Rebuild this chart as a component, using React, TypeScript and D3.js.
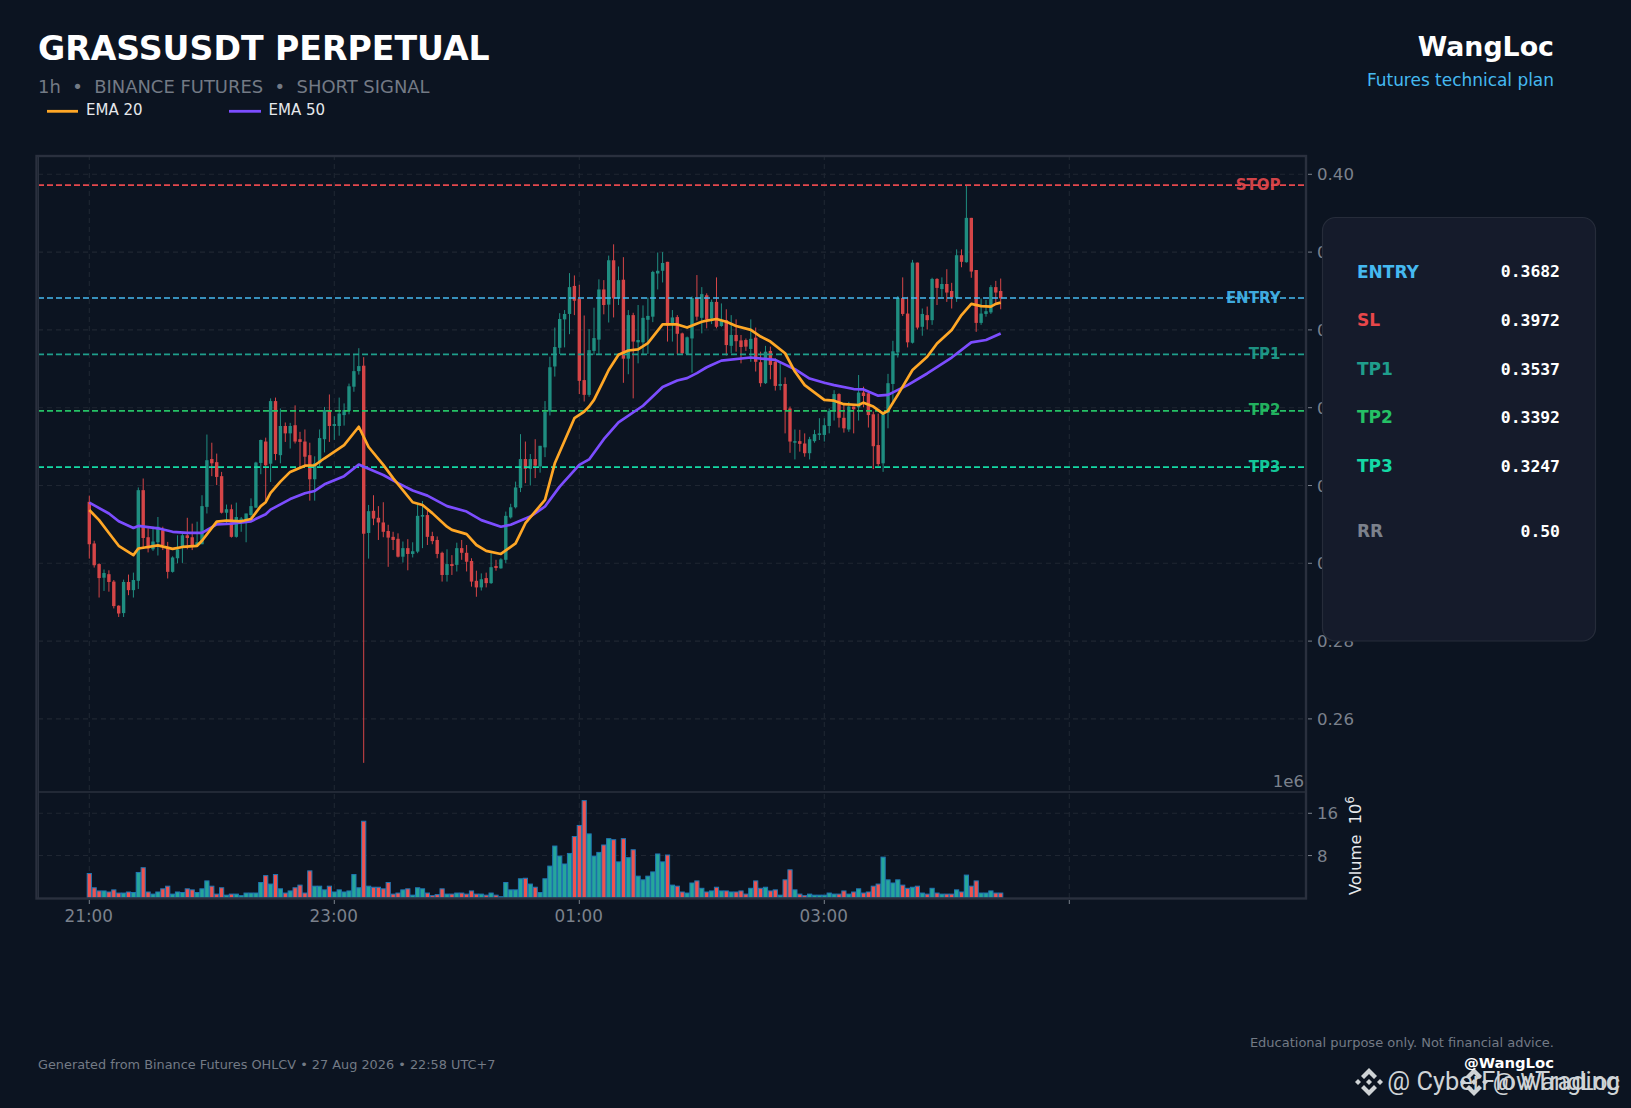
import React from "react";
import * as d3 from "d3";

const opens = [
.3158,.3051,.2998,.2963,.2972,.2953,.2891,.2872,.2952,.2931,
.2955,.3188,.3067,.3036,.3054,.3085,.3042,.2978,.3013,.3042,
.3072,.3067,.3047,.3049,.3145,.3268,.3260,.3224,.3130,.3139,
.3068,.3107,.3111,.3124,.3143,.3258,.3313,.3256,.3417,.3278,
.3353,.3334,.3355,.3319,.3313,.3278,.3216,.3257,.3319,.3392,
.3353,.3353,.3381,.3392,.3454,.3494,.3508,.3078,
.3135,.3117,.3105,.3083,.3068,.3063,.3017,.3039,.3024,.3030,.3120,.3124,
.3070,.3060,.3027,.2970,.2998,.2996,.3039,.3027,.3006,.2955,.2938,.2962,
.2949,.2993,.2987,.3009,.3118,.3144,.3194,.3268,.3243,.3268,.3249,.3298,
.3390,.3506,.3554,.3627,.3641,.3713,.3680,.3471,.3433,.3546,.3575,.3704,
.3665,.3779,.3681,.3729,.3526,.3638,.3568,.3568,.3626,.3634,.3745,.3752,
.3775,.3617,.3633,.3591,.3538,.3578,.3682,.3631,.3689,.3629,.3672,.3610,
.3625,.3559,.3587,.3573,.3574,.3551,.3580,.3517,.3463,.3546,.3518,.3456,
.3461,.3398,.3310,.3314,.3308,.3283,.3314,.3330,.3330,.3353,.3391,.3435,
.3374,.3344,.3403,.3401,.3439,.3437,.3383,.3304,.3257,.3387,.3461,.3542,
.3682,.3642,.3567,.3773,.3608,.3638,.3625,.3731,.3705,.3718,.3700,.3681,
.3792,.3774,.3888,.3754,.3618,.3641,.3645,.3710,.3700];
const highs = [
.3174,.3058,.3000,.2984,.2982,.2957,.2892,.2958,.2971,.2976,
.3195,.3218,.3090,.3094,.3119,.3094,.3055,.3018,.3072,.3078,
.3117,.3102,.3107,.3175,.3331,.3310,.3282,.3235,.3151,.3151,
.3156,.3119,.3128,.3167,.3261,.3318,.3323,.3424,.3426,.3398,
.3362,.3361,.3406,.3338,.3344,.3310,.3275,.3344,.3402,.3434,
.3378,.3426,.3411,.3462,.3538,.3553,.3530,.3150,
.3175,.3147,.3157,.3099,.3081,.3077,.3056,.3062,.3054,.3150,.3160,.3137,
.3081,.3069,.3030,.3036,.3021,.3053,.3060,.3047,.3013,.2981,.2974,.2976,
.3026,.3009,.3013,.3133,.3153,.3210,.3332,.3313,.3281,.3319,.3302,.3417,
.3531,.3606,.3643,.3651,.3746,.3740,.3716,.3637,.3602,.3657,.3730,.3728,
.3791,.3820,.3763,.3787,.3651,.3644,.3664,.3663,.3683,.3752,.3799,.3800,
.3775,.3651,.3638,.3593,.3583,.3686,.3741,.3710,.3694,.3678,.3735,.3668,
.3653,.3638,.3627,.3587,.3578,.3627,.3606,.3544,.3559,.3557,.3527,.3518,
.3478,.3403,.3344,.3343,.3334,.3325,.3343,.3373,.3373,.3398,.3445,.3437,
.3411,.3415,.3403,.3484,.3454,.3441,.3390,.3385,.3385,.3487,.3572,.3687,
.3735,.3685,.3780,.3773,.3655,.3660,.3734,.3733,.3735,.3756,.3721,.3807,
.3807,.3970,.3888,.3754,.3681,.3677,.3715,.3726,.3732];
const lows = [
.3012,.2989,.2912,.2929,.2927,.2884,.2862,.2862,.2918,.2912,
.2934,.3041,.3028,.3032,.3020,.3034,.2961,.2976,.3000,.3001,
.3036,.3034,.3042,.3049,.3128,.3224,.3201,.3128,.3102,.3066,
.3066,.3081,.3054,.3115,.3143,.3229,.3162,.3209,.3265,.3257,
.3312,.3295,.3308,.3248,.3252,.3161,.3161,.3250,.3285,.3312,
.3317,.3328,.3354,.3383,.3441,.3485,.2487,.3012,
.3098,.3060,.3067,.2991,.3034,.3015,.3002,.2982,.3015,.3026,.3039,.3047,
.3049,.3013,.2953,.2953,.2970,.2979,.3009,.2979,.2940,.2914,.2930,.2938,
.2947,.2981,.2986,.3000,.3115,.3141,.3183,.3206,.3200,.3219,.3233,.3273,
.3380,.3480,.3538,.3555,.3589,.3638,.3435,.3416,.3428,.3536,.3536,.3640,
.3619,.3632,.3664,.3464,.3486,.3424,.3514,.3536,.3538,.3620,.3704,.3722,
.3570,.3570,.3538,.3538,.3536,.3490,.3624,.3591,.3604,.3615,.3604,.3608,
.3534,.3540,.3544,.3514,.3546,.3518,.3493,.3454,.3461,.3473,.3444,.3445,
.3334,.3284,.3267,.3287,.3274,.3267,.3310,.3317,.3313,.3334,.3367,.3349,
.3336,.3338,.3334,.3367,.3401,.3349,.3242,.3250,.3235,.3347,.3411,.3529,
.3636,.3555,.3565,.3601,.3585,.3601,.3613,.3664,.3685,.3672,.3655,.3672,
.3761,.3773,.3734,.3595,.3613,.3634,.3641,.3670,.3653];
const closes = [
.3049,.2995,.2962,.2975,.2952,.2890,.2871,.2952,.2931,.2957,
.3188,.3065,.3038,.3056,.3094,.3047,.2978,.3015,.3036,.3072,
.3065,.3042,.3054,.3147,.3265,.3257,.3222,.3130,.3139,.3068,
.3119,.3115,.3128,.3147,.3259,.3317,.3252,.3417,.3281,.3353,
.3334,.3353,.3313,.3312,.3274,.3216,.3257,.3322,.3394,.3353,
.3358,.3385,.3394,.3455,.3494,.3507,.3076,.3134,
.3115,.3105,.3081,.3066,.3060,.3017,.3039,.3024,.3031,.3122,.3124,.3068,
.3057,.3024,.2970,.2998,.2993,.3039,.3027,.3004,.2953,.2938,.2959,.2949,
.2990,.2988,.3010,.3122,.3144,.3195,.3268,.3243,.3268,.3251,.3302,.3389,
.3504,.3556,.3628,.3641,.3710,.3675,.3469,.3433,.3548,.3579,.3704,.3664,
.3779,.3681,.3728,.3526,.3638,.3570,.3574,.3631,.3636,.3749,.3752,.3772,
.3611,.3632,.3590,.3540,.3581,.3682,.3634,.3692,.3627,.3672,.3608,.3625,
.3561,.3587,.3571,.3556,.3557,.3577,.3518,.3463,.3544,.3510,.3456,.3461,
.3394,.3313,.3314,.3307,.3283,.3319,.3332,.3334,.3355,.3392,.3435,.3374,
.3347,.3403,.3396,.3439,.3430,.3381,.3301,.3255,.3383,.3463,.3545,.3682,
.3641,.3568,.3773,.3606,.3641,.3625,.3731,.3708,.3718,.3696,.3684,.3792,
.3775,.3888,.3750,.3618,.3642,.3648,.3710,.3696,.3681];
const volumes = [
4.6,1.9,1.3,1.3,1.1,1.5,.9,.9,1.1,1.0,
4.8,5.7,1.1,.7,1.1,1.7,2.2,.7,1.1,1.0,
1.7,1.5,1.0,1.7,3.2,2.2,.7,1.9,.5,.7,
.7,.4,.9,.9,.9,2.9,4.2,2.6,4.4,1.7,
.9,1.3,1.9,2.4,.9,5.1,2.2,2.2,1.5,2.2,
1.1,1.5,1.1,1.3,4.4,1.9,14.5,2.2,2.0,2.0,
1.7,2.9,.7,.9,1.5,1.7,.5,1.9,1.7,.9,
.4,.6,1.7,.7,.7,.9,.9,.7,1.3,.7,
.7,.5,.9,.5,.2,2.9,1.5,1.5,3.6,3.7,
2.6,2.0,1.0,3.6,6.0,9.8,7.9,6.4,8.4,11.6,
13.7,18.4,12.1,7.9,8.6,10.0,11.2,11.0,6.8,11.2,
7.6,9.1,4.1,3.4,4.1,4.9,8.3,6.8,8.1,2.4,
2.2,1.1,.9,2.8,3.2,1.8,1.1,1.3,2.0,1.3,
1.3,1.1,1.1,1.3,.7,1.8,3.2,1.8,2.0,1.3,
1.5,.5,3.4,5.3,1.5,.7,.4,.7,.5,.5,
.5,.9,.7,.7,1.3,.7,1.1,1.7,.9,1.1,
2.2,2.6,7.7,3.4,2.8,3.4,2.4,1.8,2.0,2.2,
.9,.7,1.8,.9,.7,.7,.7,1.5,1.1,4.3,
2.2,3.2,.9,.9,1.3,.9,.9];
const ema20Index = [0,2,4,6,9,10,11,14,17,19,22,23,26,28,31,33,35,36,37,39,41,44,46,48,52,55,57,60,62,66,68,70,73,74,77,79,81,84,87,89,93,95,99,101,102,103,105,106,108,110,112,114,117,120,122,125,126,128,130,132,135,137,139,142,144,146,150,152,154,157,158,160,162,163,165,168,171,173,176,178,180,182,184,185,186];
const ema20 = [.3137,.3111,.3078,.3045,.3021,.3038,.3040,.3046,.3037,.3042,.3045,.3058,.3107,.3110,.3108,.3114,.3147,.3157,.3181,.3210,.3235,.3251,.3252,.3270,.3304,.3351,.3299,.3253,.3219,.3157,.3150,.3129,.3094,.3086,.3075,.3047,.3032,.3024,.3051,.3103,.3163,.3257,.3373,.3390,.3403,.3420,.3471,.3497,.3536,.3547,.3550,.3566,.3614,.3614,.3606,.3621,.3624,.3628,.3621,.3610,.3600,.3583,.3570,.3540,.3493,.3458,.3420,.3418,.3409,.3407,.3413,.3403,.3385,.3392,.3433,.3497,.3531,.3565,.3600,.3638,.3667,.3661,.3660,.3667,.3670];
const ema50Index = [0,4,6,9,10,14,17,20,23,26,29,33,36,37,41,44,46,48,52,55,56,57,60,63,66,69,73,77,80,84,86,90,93,96,100,102,105,108,113,117,120,122,124,126,127,129,135,140,144,147,150,152,156,158,161,163,167,171,176,180,183,186];
const ema50 = [.3156,.3128,.3108,.3091,.3096,.3090,.3081,.3078,.3078,.3100,.3102,.3108,.3126,.3138,.3165,.3180,.3186,.3203,.3224,.3254,.3248,.3243,.3227,.3206,.3187,.3174,.3147,.3133,.3111,.3094,.3099,.3120,.3146,.3197,.3253,.3267,.3319,.3362,.3405,.3453,.3470,.3476,.3489,.3504,.3510,.3521,.3529,.3523,.3499,.3475,.3464,.3458,.3448,.3447,.3431,.3433,.3458,.3488,.3529,.3568,.3574,.3591];

const priceTicks = [0.26, 0.28, 0.30, 0.32, 0.34, 0.36, 0.38, 0.40];
const volumeTicks = [8, 16];
const timeTickIndex = [0, 50, 100, 150, 200];
const timeTickLabels = ["21:00", "23:00", "01:00", "03:00", ""];
const levelNames = ["STOP", "ENTRY", "TP1", "TP2", "TP3"];
const levelPrices = [0.3972, 0.3682, 0.3537, 0.3392, 0.3247];
const levelColors = ["#e5484d", "#45b9f0", "#1f9e8c", "#25c165", "#14d9a5"];
const panelNames = ["ENTRY", "SL", "TP1", "TP2", "TP3", "RR"];
const panelValues = ["0.3682", "0.3972", "0.3537", "0.3392", "0.3247", "0.50"];
const panelColors = ["#45b9f0", "#e8474a", "#1f9e8c", "#25c165", "#14d9a5", "#7b818c"];
const panelBaselines = [277.5, 326, 374.5, 423, 472, 537];
const panelValueBaselines = [277, 325.75, 374.5, 423.25, 472, 537];

const SANS = "'DejaVu Sans', sans-serif";
const MONO = "'DejaVu Sans Mono', monospace";
const BG = "#0c1421";
const UP = "#1f8d80";
const DOWN = "#d54547";
const UP_V = "#26a69a";
const DOWN_V = "#ef5350";
const FRAME = "#2a303e";
const GRID = "#1f2632";
const TICK = "#7b818c";

const L = 38, R = 1306, T = 155, B = 898.5;
const x = d3.scaleLinear().domain([0, 200]).range([89.3, 1069.3]);
const y = d3.scaleLinear().domain([0.26, 0.40]).range([718.9, 174.3]);
const v = d3.scaleLinear().domain([0, 16]).range([897.8, 813.3]);

function Diamond({ cx, cy }: { cx: number; cy: number }) {
  const p = (c: number, d: number, r: number) => `M${c - r},${d}L${c},${d - r}L${c + r},${d}L${c},${d + r}Z`;
  const ring = d3.path();
  ring.moveTo(cx, cy - 14); ring.lineTo(cx + 8, cy - 6); ring.lineTo(cx + 5, cy - 3); ring.lineTo(cx, cy - 8); ring.lineTo(cx - 5, cy - 3); ring.lineTo(cx - 8, cy - 6); ring.closePath();
  ring.moveTo(cx, cy + 14); ring.lineTo(cx + 8, cy + 6); ring.lineTo(cx + 5, cy + 3); ring.lineTo(cx, cy + 8); ring.lineTo(cx - 5, cy + 3); ring.lineTo(cx - 8, cy + 6); ring.closePath();
  return (
    <g fill="#cfd3d6">
      <path d={ring.toString()} />
      <path d={p(cx - 11, cy, 3)} />
      <path d={p(cx + 11, cy, 3)} />
      <path d={p(cx, cy, 3)} />
    </g>
  );
}

export default function App() {
  const line = (idx: number[], vals: number[]) =>
    d3.line<number>().x((_, k) => x(idx[k])).y((d) => y(d))(vals) || "";
  const bw = 3.4;
  return (
    <svg width={1631} height={1108} viewBox="0 0 1631 1108"
      style={{ position: "absolute", left: 0, top: 0, display: "block", background: BG }}
      fontFamily={SANS}>
      <rect x={0} y={0} width={1631} height={1108} fill={BG} />

      {/* header */}
      <text x={38} y={60} fontSize={33.15} fontWeight={700} fill="#ffffff">GRASSUSDT PERPETUAL</text>
      <text x={38} y={92.5} fontSize={17.95} fill="#737a85" style={{ whiteSpace: "pre" }}>{"1h  •  BINANCE FUTURES  •  SHORT SIGNAL"}</text>
      <line x1={47} x2={78} y1={111.3} y2={111.3} stroke="#ffa726" strokeWidth={2.8} />
      <text x={86} y={115} fontSize={15} fill="#e6e8ec">EMA 20</text>
      <line x1={229} x2={261} y1={111.3} y2={111.3} stroke="#7c4dff" strokeWidth={2.8} />
      <text x={268.5} y={115} fontSize={15} fill="#e6e8ec">EMA 50</text>
      <text x={1554} y={56} fontSize={26.8} fontWeight={700} fill="#ffffff" textAnchor="end">WangLoc</text>
      <text x={1554} y={86} fontSize={16.95} fill="#45b9f0" textAnchor="end">Futures technical plan</text>

      {/* grids */}
      {timeTickIndex.map((t) => (
        <line key={t} x1={x(t)} x2={x(t)} y1={T} y2={B} stroke={GRID} strokeWidth={1.1} strokeDasharray="5 4" />
      ))}
      {priceTicks.map((p) => (
        <line key={p} x1={L} x2={R} y1={y(p)} y2={y(p)} stroke={GRID} strokeWidth={1.1} strokeDasharray="5 4" />
      ))}
      {volumeTicks.map((p) => (
        <line key={p} x1={L} x2={R} y1={v(p)} y2={v(p)} stroke={GRID} strokeWidth={1.1} strokeDasharray="5 4" />
      ))}

      {/* volume */}
      {volumes.map((d, i) => (
        <rect key={i} x={x(i) - 2.1} width={4.2} y={v(d)} height={v(0) - v(d)}
          fill={closes[i] >= opens[i] ? UP_V : DOWN_V} stroke="#1f77b4" strokeWidth={1} />
      ))}

      {/* candles */}
      {opens.map((o, i) => {
        const c = closes[i];
        const col = c >= o ? UP : DOWN;
        const top = y(Math.max(o, c));
        const bot = y(Math.min(o, c));
        return (
          <g key={i}>
            <line x1={x(i)} x2={x(i)} y1={y(highs[i])} y2={y(lows[i])} stroke={col} strokeWidth={1} />
            <rect x={x(i) - bw / 2} width={bw} y={top} height={Math.max(bot - top, 0.8)} fill={col} />
          </g>
        );
      })}

      {/* levels */}
      {levelPrices.map((p, i) => (
        <g key={levelNames[i]}>
          <line x1={L} x2={R} y1={y(p)} y2={y(p)} stroke={levelColors[i]} strokeWidth={1.7} strokeDasharray="6 3" />
          <text x={1280.5} y={y(p) + 4.5} fontSize={15} fontWeight={700} fill={levelColors[i]} fillOpacity={0.92} textAnchor="end">{levelNames[i]}</text>
        </g>
      ))}

      {/* EMAs */}
      <path d={line(ema50Index, ema50)} fill="none" stroke="#7c4dff" strokeWidth={2.7} strokeLinejoin="round" />
      <path d={line(ema20Index, ema20)} fill="none" stroke="#ffa726" strokeWidth={2.7} strokeLinejoin="round" />

      {/* frame */}
      <g fill="none" stroke={FRAME}>
        <rect x={36.5} y={156} width={1269.5} height={742.5} strokeWidth={2.4} />
        <line x1={38} x2={1306} y1={792} y2={792} strokeWidth={1.6} />
        <line x1={38.5} x2={38.5} y1={156} y2={898} strokeWidth={1} />
      </g>

      {/* axis ticks and labels */}
      {priceTicks.map((p) => (
        <g key={p}>
          <line x1={1308} x2={1312} y1={y(p)} y2={y(p)} stroke={TICK} strokeWidth={1} />
          <text x={1317} y={y(p) + 6} fontSize={16.6} fill={TICK}>{d3.format(".2f")(p)}</text>
        </g>
      ))}
      {volumeTicks.map((p) => (
        <g key={p}>
          <line x1={1308} x2={1312} y1={v(p)} y2={v(p)} stroke={TICK} strokeWidth={1} />
          <text x={1317} y={v(p) + 6} fontSize={16.6} fill={TICK}>{p}</text>
        </g>
      ))}
      <text x={1304} y={787} fontSize={16.6} fill={TICK} textAnchor="end">1e6</text>
      {timeTickIndex.map((t, k) => (
        <g key={t}>
          <line x1={x(t)} x2={x(t)} y1={900} y2={904} stroke={TICK} strokeWidth={1} />
          <text x={x(t) - 0.5} y={922} fontSize={16.8} fill={TICK} textAnchor="middle">{timeTickLabels[k]}</text>
        </g>
      ))}
      <text transform="translate(1361,895) rotate(-90)" fontSize={16.25} fill="#e6e8ec" style={{ whiteSpace: "pre" }}>
        {"Volume  10"}<tspan dy={-7} fontSize={11.5}>6</tspan>
      </text>

      {/* side panel */}
      <rect x={1322.5} y={217.5} width={273} height={423.5} rx={13} fill="#151b2b" stroke="#262c3a" strokeWidth={1.2} />
      {panelNames.map((n, i) => (
        <g key={n}>
          <text x={1357} y={panelBaselines[i]} fontSize={17} fontWeight={700} fill={panelColors[i]}>{n}</text>
          <text x={1560} y={panelValueBaselines[i]} fontSize={16.4} fontWeight={700} fontFamily={MONO} fill="#ffffff" textAnchor="end">{panelValues[i]}</text>
        </g>
      ))}

      {/* footer */}
      <text x={38} y={1069} fontSize={12.85} fill="#737a85">Generated from Binance Futures OHLCV • 27 Aug 2026 • 22:58 UTC+7</text>
      <text x={1554} y={1047} fontSize={13} fill="#737a85" textAnchor="end">Educational purpose only. Not financial advice.</text>
      <Diamond cx={1369} cy={1082} />
      <text x={1620} y={1090} fontSize={25.4} fontFamily="Roboto, sans-serif" fill="#cfd3d6" textAnchor="end" style={{ whiteSpace: "pre" }}>@ CyberFlowTrading</text>
      <Diamond cx={1474} cy={1082} />
      <text x={1620} y={1090} fontSize={24} fontFamily="Roboto, sans-serif" fill="#cfd3d6" textAnchor="end" style={{ whiteSpace: "pre" }}>@ WangLoc</text>
      <text x={1554} y={1068} fontSize={14.8} fontWeight={700} fill="#ffffff" textAnchor="end">@WangLoc</text>
    </svg>
  );
}
